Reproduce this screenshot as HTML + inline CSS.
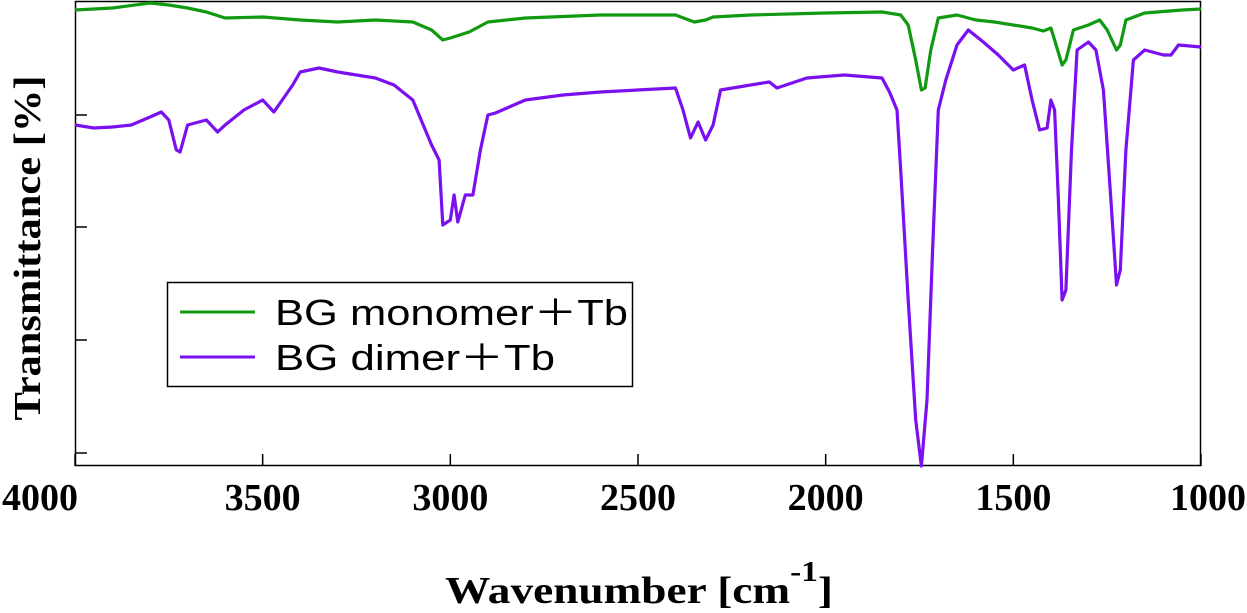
<!DOCTYPE html>
<html><head><meta charset="utf-8"><style>
body{margin:0;background:#fff;width:1247px;height:613px;overflow:hidden}
svg{display:block}
.tk{font-family:"Liberation Serif",serif;font-weight:bold;font-size:38px;fill:#000}
</style></head><body>
<svg id="chart" width="1247" height="613">
<rect x="75.5" y="1.5" width="1125" height="464" fill="none" stroke="#000" stroke-width="1.5"/>
<g id="ticks"></g>
<g id="lines"></g>
<text x="40" y="248" class="tk" font-size="46" text-anchor="middle" textLength="345" lengthAdjust="spacingAndGlyphs" transform="rotate(-90 40 248)">Transmittance [%]</text>
<text x="445" y="603" class="tk" font-size="48" textLength="388" lengthAdjust="spacingAndGlyphs">Wavenumber [cm<tspan dy="-22" font-size="28">-1</tspan><tspan dy="22">]</tspan></text>
<g>
<rect x="167.5" y="282.5" width="465" height="104" fill="#fff" stroke="#000" stroke-width="1.5"/>
<line x1="180" y1="312" x2="255" y2="312" stroke="#119a11" stroke-width="3"/>
<text x="275" y="325" font-family="Liberation Sans,sans-serif" font-size="36" textLength="353" lengthAdjust="spacingAndGlyphs">BG monomer＋Tb</text>
<line x1="180" y1="357" x2="255" y2="357" stroke="#7a0fef" stroke-width="3"/>
<text x="275" y="370" font-family="Liberation Sans,sans-serif" font-size="36" textLength="280" lengthAdjust="spacingAndGlyphs">BG dimer＋Tb</text>
</g>
</svg>
<script>
const xTicks=[4000,3500,3000,2500,2000,1500,1000];
const yTicks=[351,239,126,13];
const monoX=[4000,3900,3800,3750,3700,3650,3600,3500,3400,3300,3200,3100,3050,3020,3000,2950,2900,2800,2600,2400,2350,2320,2300,2200,2000,1850,1800,1780,1760,1745,1735,1720,1700,1650,1600,1550,1450,1420,1400,1390,1370,1360,1340,1300,1270,1250,1225,1215,1200,1150,1050,1000];
const monoY=[456,458,463,461,458,454,448,449,446,444,446,444,436,426,428,434,444,448,451,451,444,446,449,451,453,454,451,441,406,376,378,416,448,451,446,444,438,435,438,426,401,406,436,441,446,436,416,421,446,453,456,457];
const dimerX=[4000,3950,3900,3850,3800,3770,3750,3730,3720,3700,3650,3620,3600,3550,3500,3470,3420,3400,3350,3300,3200,3150,3100,3080,3050,3030,3020,3000,2990,2980,2960,2940,2920,2900,2880,2800,2700,2600,2400,2380,2360,2340,2320,2300,2280,2200,2150,2130,2050,1950,1850,1830,1810,1800,1780,1760,1745,1730,1715,1700,1680,1650,1620,1580,1540,1500,1470,1450,1430,1410,1400,1390,1380,1370,1360,1345,1330,1300,1280,1260,1240,1225,1215,1200,1180,1150,1100,1080,1060,1000];
const dimerY=[341,338,339,341,349,354,346,316,314,341,346,334,341,356,366,354,381,394,398,394,388,381,366,348,321,306,241,246,271,244,271,271,316,351,353,366,371,374,378,356,328,344,326,341,376,381,384,378,388,391,388,374,356,296,166,46,0,66,216,356,386,421,436,424,411,396,401,366,336,338,366,356,266,166,176,316,416,424,416,376,266,181,196,316,406,416,411,411,421,419];
const X=v=>75+(4000-v)/3000*1126;
const Y=v=>466-v;
const ns="http://www.w3.org/2000/svg";
const tg=document.getElementById('ticks');
xTicks.forEach((t,i)=>{
 const l=document.createElementNS(ns,'line');
 l.setAttribute('x1',X(t));l.setAttribute('x2',X(t));l.setAttribute('y1',466);l.setAttribute('y2',454);
 l.setAttribute('stroke','#000');l.setAttribute('stroke-width','1.5');
 
 
 tg.appendChild(l);
 const tx=document.createElementNS(ns,'text');
 let a='middle';if(i==0)a='start';if(i==xTicks.length-1)a='end';
 tx.setAttribute('x',i==0?2:(i==xTicks.length-1?1246:X(t)));tx.setAttribute('y',510);tx.setAttribute('text-anchor',a);
 tx.setAttribute('class','tk');tx.textContent=t;
 
 
 tg.appendChild(tx);
});
yTicks.forEach(t=>{
 const l=document.createElementNS(ns,'line');
 l.setAttribute('x1',75);l.setAttribute('x2',87);l.setAttribute('y1',Y(t));l.setAttribute('y2',Y(t));
 l.setAttribute('stroke','#000');l.setAttribute('stroke-width','1.5');
 
 
 tg.appendChild(l);
});
const lg=document.getElementById('lines');
function draw(xs,ys,c,name){
 const p=document.createElementNS(ns,'path');
 p.setAttribute('d',xs.map((x,i)=>(i?'L':'M')+X(x).toFixed(1)+' '+Y(ys[i]).toFixed(1)).join(''));
 p.setAttribute('fill','none');p.setAttribute('stroke',c);p.setAttribute('stroke-width','3.2');p.setAttribute('stroke-linejoin','round');
 
 
 lg.appendChild(p);
}
draw(monoX,monoY,'#119a11','monomer-line');
draw(dimerX,dimerY,'#7a0fef','dimer-line');
</script>
</body></html>
